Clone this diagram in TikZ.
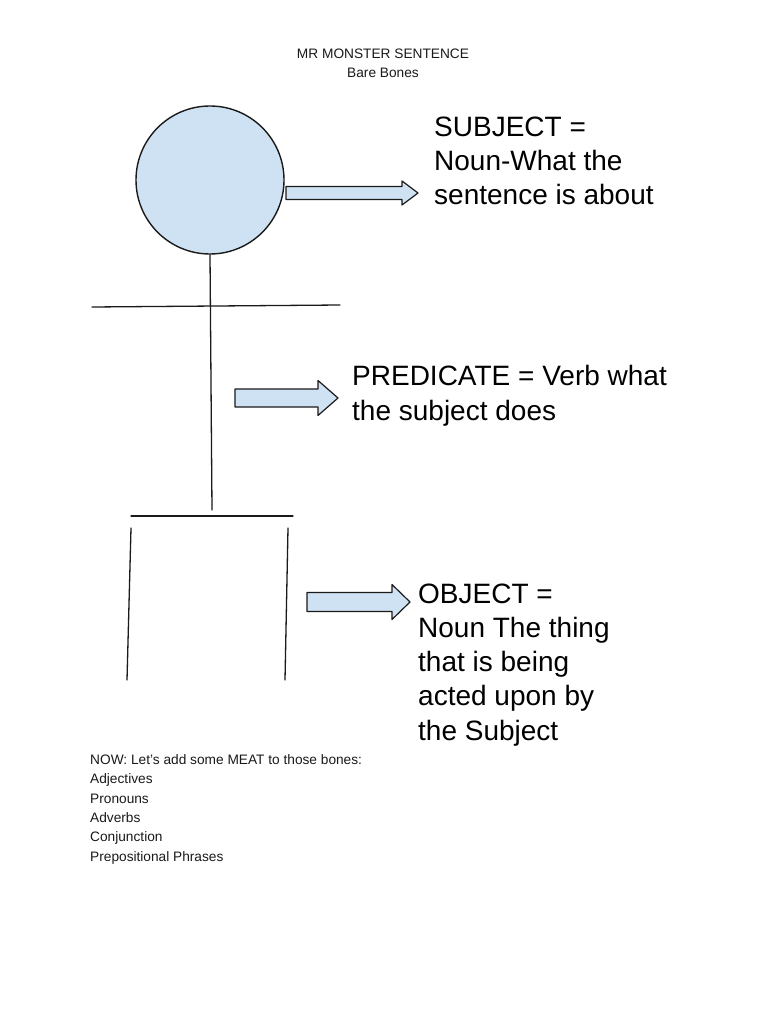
\documentclass[tikz,border=0pt]{standalone}
\usepackage{fontspec}
\setmainfont{Liberation Sans}
\definecolor{bonefill}{HTML}{CFE2F3}
\definecolor{pen}{HTML}{1A1A1A}
\newcommand{\bonearrow}[6]{%
	\draw[fatarrow] (#1,#4-#5)--(#3,#4-#5)--(#3,#4-#6)--(#2,#4)--(#3,#4+#6)--(#3,#4+#5)--(#1,#4+#5)--cycle;}
\begin{document}
\begin{tikzpicture}[x=1pt,y=-1pt,line join=round,line cap=round,
		stick/.style={draw=pen,line width=1.3pt},
		fatarrow/.style={draw=pen,fill=bonefill,line width=1.2pt},
		bigtext/.style={anchor=base west,inner sep=0,align=left,font=\fontsize{28}{34.2}\selectfont},
		smalltext/.style={inner sep=0,align=left,text=pen,font=\fontsize{13.7}{19.3}\selectfont}]
	\useasboundingbox[fill=white] (0,0) rectangle (768,1024);
	% title (base = last line)
	\node[smalltext,align=center,anchor=base] (title) at (383,78) {MR MONSTER SENTENCE\\Bare Bones};
	% the monster
	\node[circle,draw=pen,fill=bonefill,line width=1.4pt,minimum size=148pt,inner sep=0] (head) at (210,180) {};
	\coordinate (waist) at (212,510);
	\draw[stick] (head.south)--(waist);
	\coordinate (armL) at (92,307);
	\coordinate (armR) at (340,305);
	\draw[stick] (armL)--(armR);
	\coordinate (hipL) at (131,516);
	\coordinate (hipR) at (293,516);
	\draw[stick] (hipL)--(hipR);
	\foreach \a/\b in {131/127,288/285}{
		\draw[stick] (\a,528)--(\b,680);
	}
	% arrows
	\bonearrow{286}{418}{402}{193}{6.5}{12}
	\bonearrow{235}{338}{318}{398}{9}{17.5}
	\bonearrow{307}{410}{392}{602}{9.5}{17.5}
	% labels, placed by their last baseline
	\node[bigtext] (subject) at (434,205) {SUBJECT =\\Noun-What the\\sentence is about};
	\node[bigtext] (predicate) at (352,420) {PREDICATE = Verb what\\the subject does};
	\node[bigtext] (object) at (418,740) {OBJECT =\\Noun The thing\\that is being\\acted upon by\\the Subject};
	\node[smalltext,anchor=base west] (meat) at (90,861) {NOW: Let’s add some MEAT to those bones:\\Adjectives\\Pronouns\\Adverbs\\Conjunction\\Prepositional Phrases};
\end{tikzpicture}
\end{document}
